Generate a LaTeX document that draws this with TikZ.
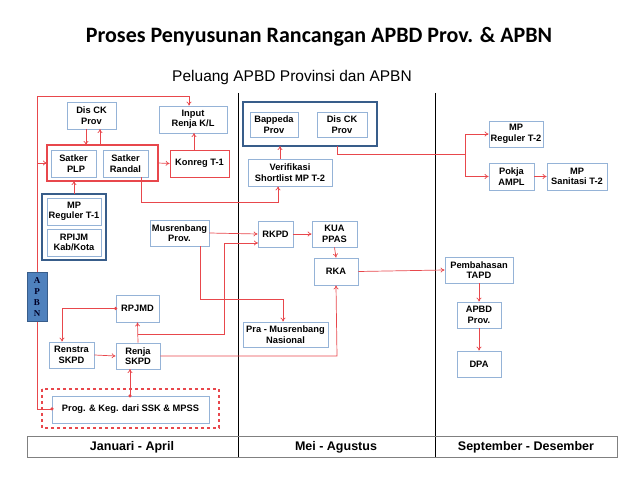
\documentclass[tikz,border=0pt]{standalone}
\usepackage{fontspec}
\setmainfont{Liberation Sans}
\newfontfamily\titlefont{Carlito}
\newfontfamily\serifb{Liberation Serif}
\usetikzlibrary{arrows.meta,calc}
\definecolor{lred}{HTML}{E8474C}
\definecolor{lblue}{HTML}{95B3D7}
\definecolor{dblue}{HTML}{385D8A}
\definecolor{fblue}{HTML}{4F81BD}
\tikzset{
  bx/.style={draw=lblue,line width=0.8pt,fill=white,align=center,inner sep=0pt,font=\bfseries\fontsize{9.3}{10.5}\selectfont},
  ar/.style={draw=lred,line width=0.7pt,-{To[length=4pt,width=5pt]}},
  ln/.style={draw=lred,line width=0.7pt},
  dt/.style={circle,fill=lred,inner sep=0pt,minimum size=3.5pt},
}
\newcommand{\bxn}[6]{\node[bx,minimum width=#4pt,minimum height=#5pt] (#1) at (#2,#3) {#6};}
\begin{document}
\begin{tikzpicture}[x=1pt,y=-1pt]
\useasboundingbox (0,0) rectangle (638,478);
\node[font=\titlefont\bfseries\fontsize{22}{25}\selectfont] (title) at (319,37) {Proses Penyusunan Rancangan APBD Prov. \& APBN};
\node[font=\fontsize{15.5}{17}\selectfont] (sub) at (292,77) {Peluang APBD Provinsi dan APBN};
% columns
\draw[line width=1pt] (238,93) -- (238,458);
\draw[line width=1pt] (435,93) -- (435,458);
\draw[line width=0.8pt,draw=gray] (27,436) rectangle (617,457);
\node[font=\bfseries\fontsize{12.5}{14}\selectfont] (c1) at (132,447) {Januari - April};
\node[font=\bfseries\fontsize{12.5}{14}\selectfont] (c2) at (336,447) {Mei - Agustus};
\node[font=\bfseries\fontsize{12.5}{14}\selectfont] (c3) at (526,447) {September - Desember};
% group boxes
\draw[lred,line width=1.8pt] (47,145) rectangle (158,181);
\draw[dblue,line width=1.8pt] (42,194) rectangle (106,260);
\draw[dblue,line width=1.8pt] (243,102) rectangle (377,146);
\draw[lred,line width=1.5pt,dashed] (42,389) rectangle (219,428);
% nodes
\bxn{dck1}{91.5}{115.5}{49}{27}{Dis CK\\Prov}
\bxn{input}{193}{119.5}{68}{27}{Input\\Renja K/L}
\bxn{plp}{73.5}{163.5}{45}{27}{Satker\\\ \ PLP}
\bxn{randal}{125.5}{163.5}{45}{27}{Satker\\Randal}
\node[bx,draw=lred,minimum width=59pt,minimum height=27pt] (konreg) at (199.5,163.5) {Konreg T-1};
\bxn{mpr1}{74}{211.5}{54}{27}{MP\\Reguler T-1}
\bxn{rpijm}{74}{242.5}{54}{27}{RPIJM\\Kab/Kota}
\bxn{musp}{179.5}{233}{59}{26}{Musrenbang\\Prov.}
\bxn{rpjmd}{137.5}{308.5}{43}{27}{RPJMD}
\bxn{renstra}{71.5}{355}{45}{26}{Renstra\\SKPD}
\bxn{renja}{138}{356}{44}{26}{Renja\\SKPD}
\bxn{prog}{130.5}{409.5}{157}{27}{Prog. \& Keg. dari SSK \& MPSS}
\bxn{pramus}{285.5}{334.5}{85}{25}{Pra - Musrenbang\\Nasional}
\bxn{bapp}{274}{124.5}{48}{25}{Bappeda\\Prov}
\bxn{dck2}{342}{124.5}{50}{25}{Dis CK\\Prov}
\bxn{verif}{290}{172.5}{84}{27}{Verifikasi\\Shortlist MP T-2}
\bxn{rkpd}{275.5}{234}{35}{26}{RKPD}
\bxn{kua}{334.5}{234}{45}{26}{KUA\\PPAS}
\bxn{rka}{336}{271.5}{44}{27}{RKA}
\bxn{mpr2}{516}{134}{54}{26}{MP\\Reguler T-2}
\bxn{pokja}{511.5}{176.5}{45}{27}{Pokja\\AMPL}
\bxn{mpsan}{577}{176.5}{60}{27}{MP\\Sanitasi T-2}
\bxn{tapd}{479}{270}{68}{26}{Pembahasan\\TAPD}
\bxn{apbd}{479}{315}{44}{26}{APBD\\Prov.}
\bxn{dpa}{479}{364}{44}{26}{DPA}
\node[draw=dblue,fill=fblue,line width=1pt,minimum width=20pt,minimum height=49pt,inner sep=0pt,align=center,text=black!85!blue,font=\serifb\bfseries\fontsize{9}{11}\selectfont] (apbn) at (37,297.5) {A\\P\\B\\N};
% connectors
\coordinate (lt) at (37,96);
\draw[ln] (apbn.north) -- (lt);
\draw[ar] (lt) -| (input.north -| 189,0);
\draw[ar] (37,163) -- (47,163);
\draw[ln] (apbn.south) |- (52,409) node[dt,pos=1] {};
\draw[ar] (86,129) -- (86,145);
\draw[ar] (100,145) -- (100,129);
\draw[ar] (74,194) -- (74,181);
\draw[ar] (158,163) -- (konreg.west);
\draw[ar] (konreg.north -| 194,0) -- (194,133);
\draw[ar] (randal.south -| 141,0) -- (141,202) -| (verif.south -| 278,0);
\draw[ar] (verif.north -| 280,0) -- (280,146);
\draw[ar] (musp.east) -- (rkpd.west);
\draw[ar] (musp.south -| 200,0) -- (200,299) -| (pramus.north -| 283,0);
\draw[ar] (renja.north) -- (rpjmd.south);
\draw[ar] (138,334) -- (224,334) -- (224,243) -- (258,243);
\draw[ar] (rpjmd.west) -| (renstra.north -| 62,0) node[dt,pos=0] {};
\draw[ar] (renstra.east) -- (renja.west);
\draw[ar] (renja.east) -- (337,356) -- (rka.south);
\draw[ar] (130,396) node[dt] {} -- (130,369);
\draw[ar] (rkpd.east) -- (kua.west);
\draw[ar] (kua.south) -- (rka.north);
\draw[ar] (rka.east) -- (tapd.west);
\draw[ar] (tapd.south) -- (apbd.north);
\draw[ar] (apbd.south) -- (dpa.north);
\draw[ln] (337,146) -- (337,154) -- (465,154);
\draw[ar] (465,154) |- (mpr2.west);
\draw[ar] (465,154) |- (pokja.west);
\draw[ar] (pokja.east) -- (mpsan.west);
\end{tikzpicture}
\end{document}
